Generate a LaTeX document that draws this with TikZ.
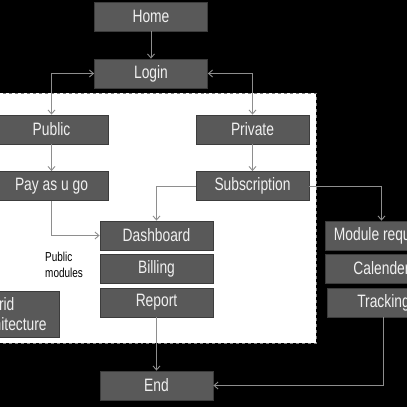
\documentclass[tikz,border=0pt]{standalone}
\usepackage{fontspec}
\setmainfont{Liberation Sans}[FakeStretch=0.77]
\usetikzlibrary{arrows.meta}
\definecolor{boxgray}{HTML}{595959}
\definecolor{boxline}{HTML}{3C3C3C}
\definecolor{linkgray}{HTML}{8E8E8E}
\tikzset{box/.style={draw=boxline, fill=boxgray, text=white!94!black, line width=0.8bp,
  minimum width=113bp, minimum height=29bp, inner sep=2bp, font=\fontsize{18}{20}\selectfont},
  link/.style={draw=linkgray, line width=0.9bp, -{Straight Barb[length=4bp,width=7bp]}}}

\begin{document}
\begin{tikzpicture}[x=1bp,y=-1bp]
   \fill[black] (0,0) rectangle (407,407);
   \useasboundingbox (0,0) rectangle (407,407);
   % white panel
   \draw[fill=white, draw=gray, dashed, line width=0.8bp] (-10,93) rectangle (316,343);
   \node[box] (home) at (151,16.5) {Home};
   \node[box] (login) at (151,73.5) {Login};
   \node[box] (public) at (51.5,129.5) {Public};
   \node[box] (private) at (252.5,129.5) {Private};
   \node[box] (pay) at (51.5,186) {Pay as u go};
   \node[box] (sub) at (252.5,186) {Subscription};
   \node[box] (dash) at (156.5,235.5) {Dashboard};
   \node[box] (billing) at (156.5,268.5) {Billing};
   \node[box] (report) at (156.5,302.5) {Report};
   \node[box] (end) at (156.5,385.5) {End};
   \node[box] (modreq) at (381.5,235.5) {Module request};
   \node[box] (calender) at (381.5,268.5) {Calender};
   \node[box] (tracking) at (383.5,302.5) {Tracking};
   \node[box, minimum width=95bp, minimum height=46bp, text width=74bp, align=left] (hybrid) at (11.5,314) {Hybrid\\architecture};
   \node[anchor=west, align=left, inner sep=0pt, font=\fontsize{13}{16}\selectfont] (pubmod) at (45,265) {Public\\modules};
   % connectors
   \draw[link] (home) -- (login);
   \draw[link, {Straight Barb[length=4bp,width=7bp]}-{Straight Barb[length=4bp,width=7bp]}] (login.west) -| (public.north);
   \draw[link, {Straight Barb[length=4bp,width=7bp]}-{Straight Barb[length=4bp,width=7bp]}] (login.east) -| (private.north);
   \draw[link] (public) -- (pay);
   \draw[link] (private) -- (sub);
   \draw[link] (sub.west) -| (dash.north);
   \draw[link] (sub.east) -| (modreq.north);
   \draw[link] (pay.south) |- (dash.west);
   \draw[link] (report) -- (end);
   \draw[link] (tracking.south) |- (end.east);
\end{tikzpicture}
\end{document}
